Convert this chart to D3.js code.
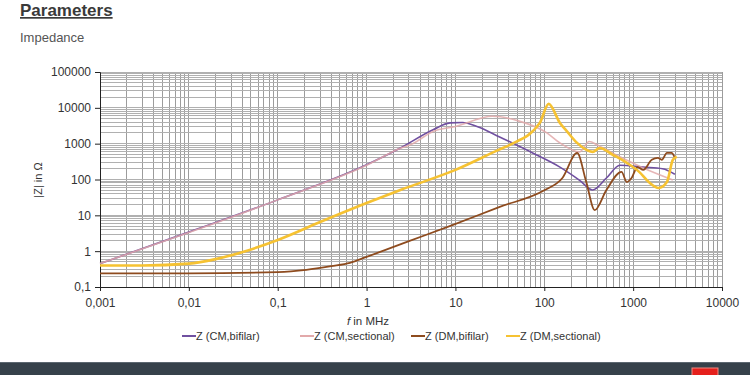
<!DOCTYPE html>
<html>
<head>
<meta charset="utf-8">
<script src="https://cdn.jsdelivr.net/npm/d3@7"></script>
<style>
  body { margin: 0; background: #fff; }
  svg { display: block; font-family: "Liberation Sans", Arial, sans-serif; }
</style>
</head>
<body>
<svg id="chart" width="750" height="375"></svg>
<script>
// axis ticks
var xTicks = [0.001, 0.01, 0.1, 1, 10, 100, 1000, 10000];
var yTicks = [0.1, 1, 10, 100, 1000, 10000, 100000];

// Z (CM,bifilar)
var cmBifilarF = [0.001, 0.01, 0.1, 1, 2.4, 5.6, 8.7, 12, 17.8, 31, 74, 150, 250, 350, 500, 710, 1300, 2140, 2950];
var cmBifilarZ = [0.45, 3.4, 27, 257, 760, 2450, 3800, 3900, 2950, 1560, 550, 222, 95, 51, 110, 250, 222, 200, 140];

// Z (CM,sectional)
var cmSectF = [0.001, 0.01, 0.1, 1, 2.4, 3.3, 5.6, 10, 26, 50, 107, 150, 250, 320, 400, 710, 1300, 2800];
var cmSectZ = [0.45, 3.3, 27, 250, 740, 1000, 2200, 3000, 5800, 4400, 2000, 1050, 590, 1150, 900, 430, 210, 97];

// Z (DM,bifilar)
var dmBifilarF = [0.001, 0.01, 0.1, 0.21, 0.4, 0.65, 1, 3, 9.4, 31, 100, 160, 234, 295, 370, 500, 740, 850, 960, 1120, 1300, 1620, 1900, 2100, 2400, 2700, 2950];
var dmBifilarZ = [0.24, 0.24, 0.26, 0.30, 0.38, 0.47, 0.69, 1.9, 5.4, 17, 50, 110, 550, 90, 14, 51, 163, 85, 110, 222, 185, 355, 400, 355, 550, 550, 400];

// Z (DM,sectional)
var dmSectF = [0.001, 0.003, 0.01, 0.02, 0.037, 0.1, 0.3, 1, 2.4, 10, 31, 41, 89, 112, 150, 180, 234, 350, 420, 590, 850, 1170, 1500, 1930, 2400, 2800, 3100];
var dmSectZ = [0.40, 0.40, 0.45, 0.6, 0.89, 2.05, 6.5, 22, 51, 185, 680, 930, 3800, 12900, 3800, 2200, 1050, 590, 760, 490, 290, 163, 85, 58, 85, 355, 430];

var seriesNames = ["Z (CM,bifilar)", "Z (CM,sectional)", "Z (DM,bifilar)", "Z (DM,sectional)"];
var seriesColors = ["#7050a0", "#e2a9aa", "#8e4b1e", "#f6c232"];
var seriesWidths = [1.6, 1.6, 1.8, 2.6];

var svg = d3.select("#chart");
// plot box (note: "top" is reserved on window, so prefixed names)
var plotL = 100, plotR = 722, plotT = 72, plotB = 287;

var x = d3.scaleLog().domain([0.001, 10000]).range([plotL, plotR]);
var y = d3.scaleLog().domain([0.1, 100000]).range([plotB, plotT]);

function comma(v) { return String(v).replace(".", ","); }

//////////////////////////////////////////////////////////////////////////////////////////
// HEADER ////////////////////////////////////////////////////////////////////////////////
//////////////////////////////////////////////////////////////////////////////////////////

svg.append("text").attr("x", 20).attr("y", 16)
  .attr("font-size", 17).attr("font-weight", "bold").attr("fill", "#3a3a3a")
  .attr("text-decoration", "underline")
  .text("Parameters");

svg.append("text").attr("x", 20).attr("y", 42)
  .attr("font-size", 13).attr("fill", "#555")
  .text("Impedance");

//////////////////////////////////////////////////////////////////////////////////////////
// GRID //////////////////////////////////////////////////////////////////////////////////
//////////////////////////////////////////////////////////////////////////////////////////

var xGrid = [], yGrid = [];
xTicks.forEach(function(d, i) {
  if (i === xTicks.length - 1) { xGrid.push(d); return; }
  for (var k = 1; k <= 9; k++) xGrid.push(d * k);
});
yTicks.forEach(function(d, i) {
  if (i === yTicks.length - 1) { yGrid.push(d); return; }
  for (var k = 1; k <= 9; k++) yGrid.push(d * k);
});

var grid = svg.append("g").attr("shape-rendering", "crispEdges");
grid.selectAll(".vg").data(xGrid).enter().append("line")
  .attr("x1", function(d) { return x(d); }).attr("x2", function(d) { return x(d); })
  .attr("y1", plotT).attr("y2", plotB)
  .attr("stroke", "#9c9c9c").attr("stroke-width", 1);
grid.selectAll(".hg").data(yGrid).enter().append("line")
  .attr("y1", function(d) { return y(d); }).attr("y2", function(d) { return y(d); })
  .attr("x1", plotL).attr("x2", plotR)
  .attr("stroke", "#b0b0b0").attr("stroke-width", 1);

//////////////////////////////////////////////////////////////////////////////////////////
// AXES //////////////////////////////////////////////////////////////////////////////////
//////////////////////////////////////////////////////////////////////////////////////////

var xAxis = svg.append("g").attr("transform", "translate(0," + plotB + ")")
  .call(d3.axisBottom(x).tickValues(xTicks).tickFormat(comma).tickSizeOuter(0).tickSize(4));
var yAxis = svg.append("g").attr("transform", "translate(" + plotL + ",0)")
  .call(d3.axisLeft(y).tickValues(yTicks).tickFormat(comma).tickSizeOuter(0).tickSize(5));

[xAxis, yAxis].forEach(function(a) {
  a.select(".domain").attr("stroke", "#222");
  a.selectAll(".tick line").attr("stroke", "#222");
  a.selectAll("text").attr("font-family", "Liberation Sans, Arial, sans-serif")
    .attr("font-size", 12).attr("fill", "#333");
});
xAxis.selectAll("text").attr("dy", "1.05em");
yAxis.selectAll("text").attr("x", -9);

svg.append("text")
  .attr("transform", "translate(42,180) rotate(-90)")
  .attr("text-anchor", "middle").attr("font-size", 11).attr("fill", "#333")
  .text("|Z| in Ω");

var xt = svg.append("text").attr("x", 368).attr("y", 325)
  .attr("text-anchor", "middle").attr("font-size", 11.5).attr("fill", "#333");
xt.append("tspan").attr("font-style", "italic").text("f");
xt.append("tspan").text(" in MHz");

//////////////////////////////////////////////////////////////////////////////////////////
// CURVES ////////////////////////////////////////////////////////////////////////////////
//////////////////////////////////////////////////////////////////////////////////////////

var allF = [cmBifilarF, cmSectF, dmBifilarF, dmSectF];
var allZ = [cmBifilarZ, cmSectZ, dmBifilarZ, dmSectZ];

var line = d3.line()
  .x(function(d) { return x(d[0]); })
  .y(function(d) { return y(d[1]); })
  .curve(d3.curveMonotoneX);

// draw order: purple, pink over it, brown, yellow on top
[0, 1, 2, 3].forEach(function(i) {
  var pts = allF[i].map(function(f, j) { return [f, allZ[i][j]]; });
  svg.append("path")
    .attr("d", line(pts))
    .attr("fill", "none")
    .attr("stroke", seriesColors[i])
    .attr("stroke-width", seriesWidths[i])
    .attr("stroke-opacity", i === 1 ? 0.85 : 1)
    .attr("stroke-linejoin", "round");
});

//////////////////////////////////////////////////////////////////////////////////////////
// LEGEND ////////////////////////////////////////////////////////////////////////////////
//////////////////////////////////////////////////////////////////////////////////////////

var legendX = [182, 300, 411, 506];
var legend = svg.append("g");
seriesNames.forEach(function(name, i) {
  var g = legend.append("g").attr("transform", "translate(" + legendX[i] + ",340)");
  g.append("line").attr("x1", 0).attr("x2", 14).attr("y1", -4).attr("y2", -4)
    .attr("stroke", seriesColors[i]).attr("stroke-width", 2);
  g.append("text").attr("x", 14).attr("font-size", 11).attr("fill", "#333").text(name);
});

//////////////////////////////////////////////////////////////////////////////////////////
// FOOTER BAR ////////////////////////////////////////////////////////////////////////////
//////////////////////////////////////////////////////////////////////////////////////////

svg.append("rect").attr("x", 0).attr("y", 362).attr("width", 750).attr("height", 13).attr("fill", "#36414a");
svg.append("rect").attr("x", 0).attr("y", 362).attr("width", 750).attr("height", 1).attr("fill", "#5c6770");
svg.append("rect").attr("x", 692).attr("y", 368).attr("width", 26).attr("height", 8)
  .attr("fill", "#e5201c").attr("stroke", "#f08a80").attr("stroke-width", 1);
</script>
</body>
</html>
